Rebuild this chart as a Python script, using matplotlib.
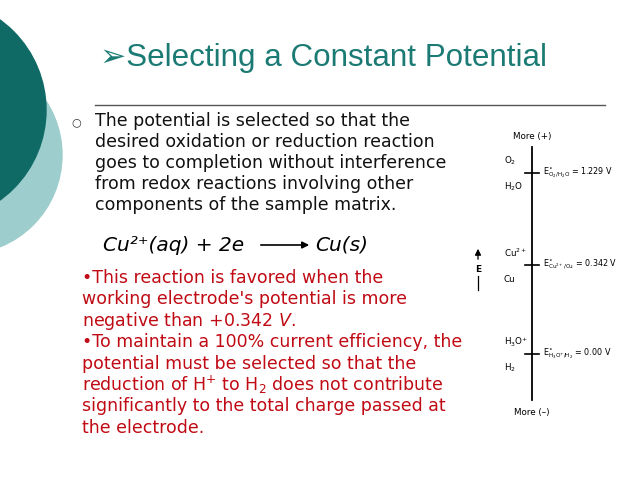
import matplotlib
matplotlib.use("Agg")
import matplotlib.pyplot as plt
from matplotlib.patches import Circle

# slide text, kept as plain lists
title = "\u27a2Selecting a Constant Potential"
intro_lines = [
    "The potential is selected so that the",
    "desired oxidation or reduction reaction",
    "goes to completion without interference",
    "from redox reactions involving other",
    "components of the sample matrix.",
]
red_lines = [
    "\u2022This reaction is favored when the",
    "working electrode's potential is more",
    "negative than $\\mathit{+0.342\\ V}$.",
    "\u2022To maintain a 100% current efficiency, the",
    "potential must be selected so that the",
    "reduction of H$^{+}$ to H$_{2}$ does not contribute",
    "significantly to the total charge passed at",
    "the electrode.",
]

# ladder diagram: couples from most positive to most negative
ox_species = ["O$_2$", "Cu$^{2+}$", "H$_3$O$^{+}$"]
red_species = ["H$_2$O", "Cu", "H$_2$"]
couple_sub = ["O_2/H_2O", "Cu^{2+}/Cu", "H_3O^{+}/H_2"]
potentials = ["1.229", "0.342", "0.00"]

dark = "#0f6a66"
light = "#9dcdcd"
teal_txt = "#1b7b74"
red = "#c00a14"

fig = plt.figure(figsize=(6.38, 4.78), dpi=100)
ax = fig.add_axes([0, 0, 1, 1])
ax.set_xlim(0, 638)
ax.set_ylim(478, 0)
ax.axis("off")

# decorative circles on the left
ax.add_patch(Circle((-37, 155), 99, color=light, zorder=1))
ax.add_patch(Circle((-65, 110), 111, color=dark, zorder=2))

ax.text(100, 58, title, fontsize=22.6, color=teal_txt, va="center",
        family=["Liberation Sans", "DejaVu Sans"])
ax.plot([95, 605], [105, 105], color="#555555", lw=1)

# bullet + intro paragraph
ax.text(76, 122, "\u25cb", fontsize=8, color="#333333", va="center", ha="center")
for i, line in enumerate(intro_lines):
    ax.text(95, 121 + i * 21, line, fontsize=12.5, va="center", color="#111111")

# reaction
ax.text(103, 245, "Cu\u00b2\u207a(aq) + 2e", fontsize=14.5, style="italic", va="center")
ax.annotate("", xy=(312, 245), xytext=(258, 245),
            arrowprops=dict(arrowstyle="-|>", color="black", lw=1.2,
                            mutation_scale=10))
ax.text(315, 245, "Cu(s)", fontsize=14.5, style="italic", va="center")

for i, line in enumerate(red_lines):
    ax.text(82, 278 + i * 21.4, line, fontsize=12.5, va="center", color=red)

# potential ladder
ladder_y = [173, 265, 354]
ax.plot([532, 532], [147, 400], color="black", lw=1.3)
ax.text(532, 137, "More (+)", fontsize=6.3, ha="center", va="center")
ax.text(532, 413, "More (\u2013)", fontsize=6.3, ha="center", va="center")
for y, ox, rd, sub, e in zip(ladder_y, ox_species, red_species, couple_sub, potentials):
    ax.plot([525, 539], [y, y], color="black", lw=1.2)
    ax.text(504, y - 12, ox, fontsize=6.3, va="center")
    ax.text(504, y + 14, rd, fontsize=6.3, va="center")
    ax.text(543, y, "$\\mathrm{E^{\\circ}_{" + sub + "}}$ = " + e + " V",
            fontsize=5.8, va="center")

ax.annotate("", xy=(478, 246), xytext=(478, 262),
            arrowprops=dict(arrowstyle="-|>", color="black", lw=0.9,
                            mutation_scale=9))
ax.text(478, 269, "E", fontsize=6.5, ha="center", va="center", weight="bold")
ax.plot([478, 478], [276, 290], color="black", lw=0.9)

fig.savefig("out.png", dpi=100)
